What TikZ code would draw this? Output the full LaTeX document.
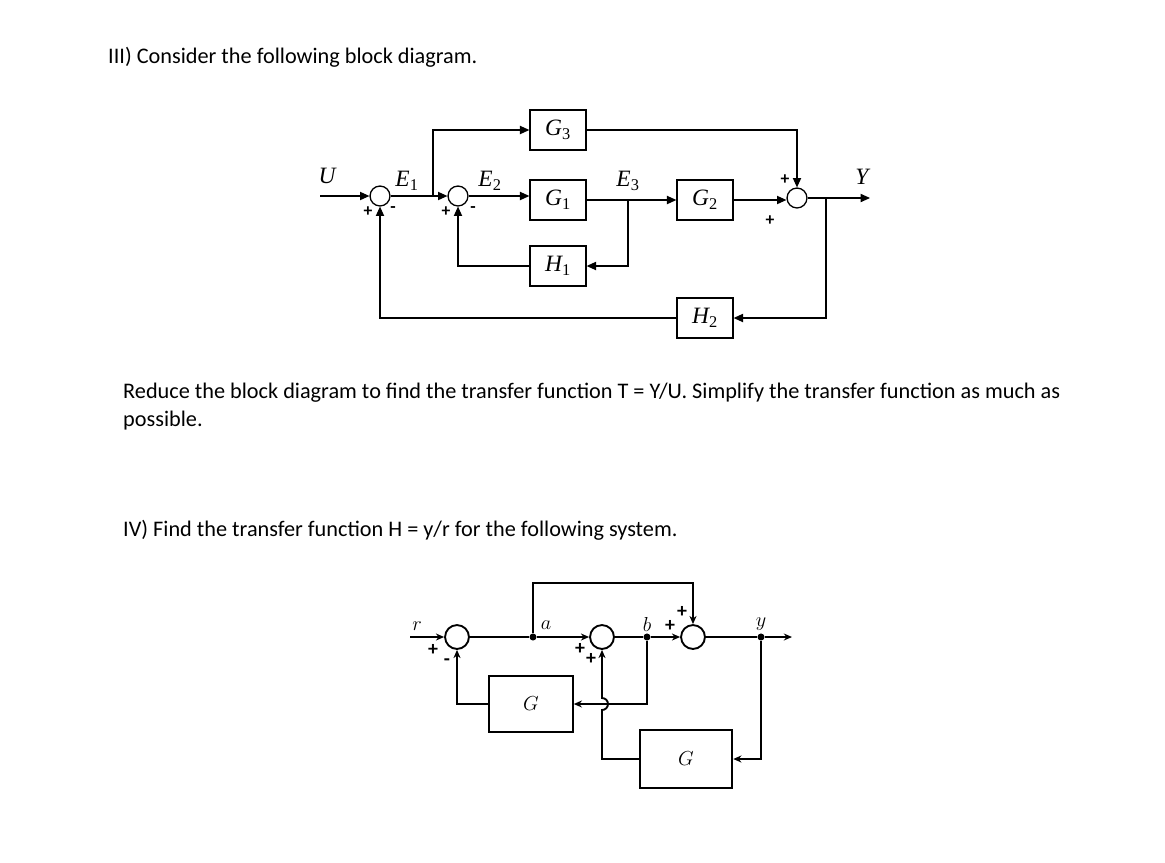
\documentclass[tikz,border=0pt]{standalone}
\usepackage{fontspec}
\setmainfont{Carlito}
\newfontfamily\tms{Liberation Serif}
\usetikzlibrary{arrows.meta}
\newcommand{\lbl}[2]{{\tms\itshape #1}\textsubscript{\tms #2}}
\begin{document}
\begin{tikzpicture}[x=0.03cm,y=-0.03cm,
  sumc/.style={draw,circle,line width=1.1pt,minimum size=20*0.85pt,inner sep=0pt},
  sumd/.style={draw,circle,line width=1.6pt,minimum size=24*0.85pt,inner sep=0pt},
  ln/.style={line width=1pt},
  ar/.style={ln,-{Triangle[length=8pt,width=7pt]}},
  lnb/.style={line width=1.6pt},
  arb/.style={lnb,-{Stealth[length=7pt,width=6pt]}},
  sg/.style={font=\fontsize{15}{16}\selectfont\bfseries},
  txt/.style={anchor=west,font=\fontsize{19}{22}\selectfont,inner sep=0pt},
  lab/.style={font=\fontsize{20}{22}\selectfont},
  lab2/.style={font=\fontsize{17}{18}\selectfont},
  dot/.style={circle,fill,inner sep=0pt,minimum size=6pt}]
\useasboundingbox (0,0) rectangle (1165,863);
\node[txt] (t1) at (108,57) {III) Consider the following block diagram.};
\node[txt] (t2) at (123,393) {Reduce the block diagram to find the transfer function T = Y/U. Simplify the transfer function as much as};
\node[txt] (t3) at (123,421) {possible.};
\node[txt] (t4) at (123,530) {IV) Find the transfer function H = y/r for the following system.};
% diagram 1
\tikzset{b1/.style={draw,line width=1.3pt,minimum width=56*0.85pt,minimum height=40*0.85pt,inner sep=0pt,font=\fontsize{20}{22}\selectfont}}
\coordinate (in) at (320,196);
\node[sumc] (s1) at (380,196) {};
\node[sumc] (s2) at (458,196) {};
\node[b1] (G3) at (558,130) {\lbl{G}{3}};
\node[b1] (G1) at (558,200) {\lbl{G}{1}};
\node[b1] (H1) at (558,266) {\lbl{H}{1}};
\node[b1] (G2) at (705,200) {\lbl{G}{2}};
\node[b1] (H2) at (705,318) {\lbl{H}{2}};
\node[sumc] (s3) at (797,198) {};
\coordinate (out) at (870,198);
\coordinate (e1) at (433,196);
\coordinate (e3) at (628,200);
\coordinate (yb) at (826,198);
\draw[ar] (in) -- (s1);
\draw[ar] (s1) -- (s2);
\draw[ar] (e1) |- (G3);
\draw[ar] (s2.east) -- (G1.west|-s2.east);
\draw[ar] (G1) -- (G2);
\draw[ar] (e3) |- (H1);
\draw[ar] (H1) -| (s2);
\draw[ar] (G2) -- (G2-|s3.west);
\draw[ar] (G3) -| (s3);
\draw[ar] (s3) -- (out);
\draw[ar] (yb) |- (H2);
\draw[ar] (H2) -| (s1);
\node[lab] (U) at (327,176) {\tms\itshape U};
\node[lab] (E1) at (407,181) {\lbl{E}{1}};
\node[lab] (E2) at (490,181) {\lbl{E}{2}};
\node[lab] (E3) at (628,181) {\lbl{E}{3}};
\node[lab] (Y) at (862,177) {\tms\itshape Y};
\node[sg] (p1) at (368,212) {+};
\node[sg] (m1) at (393,210) {-};
\node[sg] (p2) at (446,212) {+};
\node[sg] (m2) at (473,210) {-};
\node[sg] (p3) at (785,180) {+};
\node[sg] (p4) at (770,221) {+};
% diagram 2
\tikzset{b2/.style={draw,line width=1.6pt,inner sep=0pt,font=\fontsize{18}{19}\selectfont}}
\coordinate (rin) at (410,637);
\node[sumd] (d1) at (457,637) {};
\node[dot] (a) at (533,637) {};
\node[sumd] (d2) at (602,637) {};
\node[dot] (b) at (647,637) {};
\node[sumd] (d3) at (693,637) {};
\node[dot] (y) at (761,637) {};
\coordinate (yout) at (792,637);
\node[b2,minimum width=84*0.85pt,minimum height=57*0.85pt] (Ga) at (531,704) {$G$};
\node[b2,minimum width=93*0.85pt,minimum height=58*0.85pt] (Gb) at (686,759) {$G$};
\draw[arb] (rin) -- (d1);
\draw[lnb] (d1) -- (a);
\draw[arb] (a) -- (d2);
\draw[lnb] (d2) -- (b);
\draw[arb] (b) -- (d3);
\draw[lnb] (d3) -- (y);
\draw[arb] (y) -- (yout);
\draw[arb] (a) |- (610,583) -| (d3);
\draw[arb] (b) |- (Ga);
\draw[arb] (Ga) -| (d1);
\draw[arb] (y) |- (Gb);
\draw[arb] (Gb) -| (602,710) arc[start angle=-90,end angle=90,radius=6*0.03cm] -- (d2);
\node[lab2] (rl) at (417,626) {$r$};
\node[lab2] (al) at (546,625) {$a$};
\node[lab2] (bl) at (647,624) {$b$};
\node[lab2] (yl) at (761,624) {$y$};
\node[sg,font=\fontsize{17}{18}\selectfont\bfseries] (q1) at (433,650) {+};
\node[sg,font=\fontsize{17}{18}\selectfont\bfseries] (q2) at (447,662) {-};
\node[sg,font=\fontsize{17}{18}\selectfont\bfseries] (q3) at (580,649) {+};
\node[sg,font=\fontsize{17}{18}\selectfont\bfseries] (q4) at (591,659) {+};
\node[sg,font=\fontsize{17}{18}\selectfont\bfseries] (q5) at (670,626) {+};
\node[sg,font=\fontsize{17}{18}\selectfont\bfseries] (q6) at (682,612) {+};
\end{tikzpicture}
\end{document}
